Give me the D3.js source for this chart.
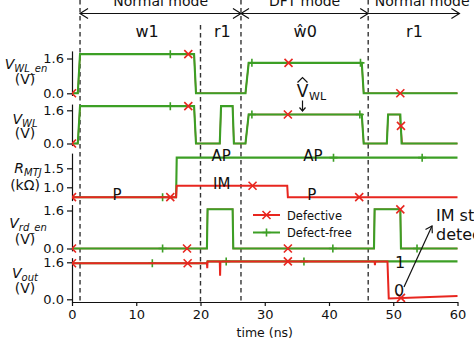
<!DOCTYPE html>
<html><head><meta charset="utf-8">
<script src="https://cdn.jsdelivr.net/npm/d3@7"></script>
<style>body{margin:0;background:#fff}svg{display:block}text{font-family:"DejaVu Sans",sans-serif;fill:#111}</style>
</head><body><svg id="c" width="474" height="346"></svg>
<script>
// ---------- data ----------
const timeTicks = [0,10,20,30,40,50,60];
const phaseLabels = ["Normal mode","DFT mode","Normal mode"];
const phaseLabelT = [13.8, 36.2, 54.5];
const phaseBounds = [1.25, 26.3, 46.1, 60.3];
const opLabels = ["w1","r1","\u0175" + "0","r1"];
const opLabelT = [11.7, 23.4, 36.3, 53.3];
const dashT = [1.25, 20, 26.3, 46.1];

// V_WL_en
const wlenGood = [[0,0],[0.9,0],[1.25,1.8],[19.0,1.8],[19.3,0],[27.0,0],[27.5,1.4],[45.1,1.4],[45.4,0],[60,0]];
const wlenBad  = wlenGood;
const wlenBadMk  = [[0,0],[18.1,1.8],[33.7,1.4],[51.1,0]];
const wlenGoodMk = [[15.3,1.8],[28.0,1.4],[44.9,1.4]];
// V_WL
const wlGood = [[0,0],[0.9,0],[1.25,1.8],[19.0,1.8],[19.3,0],[23.0,0],[23.2,1.8],[25.0,1.8],[25.2,0],[27.0,0],[27.5,1.4],[45.1,1.4],[45.4,0],[49.0,0],[49.2,1.4],[51.1,1.4],[51.3,0],[60,0]];
const wlBad  = [[0,0],[0.9,0],[1.25,1.8],[19.0,1.8],[19.3,0],[23.0,0],[23.2,1.8],[25.0,1.8],[25.2,0],[27.0,0],[27.5,1.4],[45.1,1.4],[45.4,0],[49.0,0],[49.2,1.4],[51.0,1.4],[51.4,0],[60,0]];
const wlBadMk  = [[0,0],[18.1,1.8],[33.6,1.4],[51.2,0.85]];
const wlGoodMk = [[15.3,1.8],[28.0,1.4],[44.8,1.4]];
// R_MTJ (kOhm)
const rGood = [[0,0.74],[16.2,0.74],[16.3,1.78],[60,1.78]];
const rBad  = [[0,0.74],[16.2,0.74],[16.3,1.04],[33.5,1.04],[33.6,0.74],[60,0.74]];
const rBadMk  = [[0,0.74],[15.3,0.74],[28.1,1.04],[44.7,0.74]];
const rGoodMk = [[14.1,0.74],[40.7,1.78],[54.5,1.78]];
// V_rd_en
const rdGood = [[0,0],[21.0,0],[21.1,1.65],[25.0,1.65],[25.1,0],[47.0,0],[47.1,1.65],[51.1,1.65],[51.2,0],[60,0]];
const rdBad  = rdGood;
const rdBadMk  = [[0,0],[17.9,0],[33.6,0],[51.1,1.65]];
const rdGoodMk = [[14.1,0],[40.6,0],[53.7,0]];
// V_out
const outGood = [[0,1.56],[21.0,1.56],[21.1,1.64],[60,1.64]];
const outBad  = [[0,1.56],[21.0,1.56],[21.05,1.35],[21.1,1.64],[23.0,1.64],[23.05,1.02],[23.1,1.64],[47.1,1.64],[47.15,1.48],[47.2,1.64],[49.1,1.64],[49.3,0.04],[60,0.14]];
const outBadMk  = [[0,1.56],[18.0,1.56],[33.6,1.64],[51.2,0.06]];
const outGoodMk = [[12.5,1.56],[24.0,1.64],[36.1,1.64]];

// ---------- drawing ----------
const RED = "#e8261f", GREEN = "#3c9f25";
const svg = d3.select("#c");
const x = d3.scaleLinear().domain([0,60]).range([72,457.5]);

function mkScale(v0,p0,v1,p1,ext){
  const s=(p1-p0)/(v1-v0);
  return d3.scaleLinear().domain(ext).range(ext.map(v=>p0+(v-v0)*s));
}
const panels = [
  {y: mkScale(0,93.3,1.6,58.5,[-0.1,1.95]), ticks:[0,1.6], good:wlenGood, bad:wlenBad, gm:wlenGoodMk, bm:wlenBadMk, redTop:false,
   title:["V","WL_en"], unit:"(V)", ty:[64,79], tx:26},
  {y: mkScale(0,143.5,1.6,110.3,[-0.1,1.9]), ticks:[0,1.6], good:wlGood, bad:wlBad, gm:wlGoodMk, bm:wlBadMk, redTop:false,
   title:["V","WL"], unit:"(V)", ty:[119,133], tx:25},
  {y: mkScale(1.0,187.3,1.5,168.3,[0.65,1.9]), ticks:[1.0,1.5], good:rGood, bad:rBad, gm:rGoodMk, bm:rBadMk, redTop:true,
   title:["R","MTJ"], unit:"(k\u03A9)", ty:[168,185], tx:28},
  {y: mkScale(0,248.5,1.6,210.5,[-0.1,1.85]), ticks:[0,1.6], good:rdGood, bad:rdBad, gm:rdGoodMk, bm:rdBadMk, redTop:false,
   title:["V","rd_en"], unit:"(V)", ty:[223,239], tx:28},
  {y: mkScale(0,299.3,1.6,262.3,[-0.12,1.8]), ticks:[0,1.6], good:outGood, bad:outBad, gm:outGoodMk, bm:outBadMk, redTop:true,
   title:["V","out"], unit:"(V)", ty:[273,288], tx:25}
];

svg.append("defs").append("clipPath").attr("id","clp").append("rect")
  .attr("x",72).attr("y",0).attr("width",390).attr("height",346);

// dashed phase boundaries
dashT.forEach((t,i)=>{
  svg.append("line").attr("x1",x(t)).attr("x2",x(t)).attr("y1", i===1?25:0).attr("y2",302)
    .attr("stroke","#333").attr("stroke-width",1.4).attr("stroke-dasharray","4.5,3.5");
});

// phase arrows
const ay = 13.5;
function chevron(px, dir){
  svg.append("path").attr("d",`M${px+dir*8},${ay-5}L${px},${ay}L${px+dir*8},${ay+5}`)
    .attr("fill","none").attr("stroke","#111").attr("stroke-width",1.2);
}
for(let i=0;i<3;i++){
  const a=x(phaseBounds[i]), b=x(phaseBounds[i+1]);
  svg.append("line").attr("x1",a).attr("x2",b).attr("y1",ay).attr("y2",ay).attr("stroke","#111").attr("stroke-width",1.2);
  if(i<2) chevron(a,1);
  chevron(b,-1);
}
phaseLabels.forEach((s,i)=>svg.append("text").attr("x",x(phaseLabelT[i])).attr("y",5.5)
  .attr("text-anchor","middle").attr("font-size",14).text(s));
opLabels.forEach((s,i)=>svg.append("text").attr("x",x(opLabelT[i])).attr("y",37)
  .attr("text-anchor","middle").attr("font-size",16).text(s));

// markers
function xMark(g,px,py,col){
  g.append("path").attr("d",`M${px-4},${py-4}L${px+4},${py+4}M${px-4},${py+4}L${px+4},${py-4}`)
    .attr("stroke",col).attr("stroke-width",1.6).attr("fill","none");
}
function pMark(g,px,py,col){
  g.append("path").attr("d",`M${px-4},${py}L${px+4},${py}M${px},${py-4}L${px},${py+4}`)
    .attr("stroke",col).attr("stroke-width",1.6).attr("fill","none");
}

panels.forEach(p=>{
  const y=p.y;
  const ax = d3.axisLeft(y).tickValues(p.ticks).tickFormat(d3.format(".1f")).tickSize(5).tickSizeOuter(0).tickPadding(3);
  const g = svg.append("g").attr("transform","translate(72,0)").call(ax);
  g.select(".domain").attr("stroke","#111").attr("stroke-width",1.2);
  g.selectAll(".tick line").attr("stroke","#111").attr("stroke-width",1.2);
  g.selectAll(".tick text").attr("font-size",13).attr("font-family","DejaVu Sans").attr("fill","#111");

  const line = d3.line().x(d=>x(d[0])).y(d=>y(d[1]));
  const gl = svg.append("g").attr("clip-path","url(#clp)");
  const redW = p.redTop ? 2 : 1.4;
  const drawRedLine = ()=>gl.append("path").datum(p.bad).attr("d",line).attr("fill","none").attr("stroke",RED).attr("stroke-width",redW);
  const drawGreen = ()=>{
    gl.append("path").datum(p.good).attr("d",line).attr("fill","none").attr("stroke",GREEN).attr("stroke-width",2.1);
    p.gm.forEach(d=>pMark(gl,x(d[0]),y(d[1]),GREEN));
  };
  if(p.redTop){ drawGreen(); drawRedLine(); } else { drawRedLine(); drawGreen(); }
  p.bm.forEach(d=>xMark(gl,x(d[0]),y(d[1]),RED));

  const t = svg.append("text").attr("x",p.tx).attr("y",p.ty[0]+5).attr("text-anchor","middle");
  t.append("tspan").attr("font-size",14).attr("font-style","italic").text(p.title[0]);
  t.append("tspan").attr("font-size",10).attr("font-style","italic").attr("dy",3).text(p.title[1]);
  svg.append("text").attr("x",25).attr("y",p.ty[1]+5).attr("text-anchor","middle").attr("font-size",14).text(p.unit);
});

// x axis
const xa = d3.axisBottom(x).tickValues(timeTicks).tickSize(4).tickSizeOuter(0).tickPadding(4);
const gx = svg.append("g").attr("transform","translate(0,302)").call(xa);
gx.select(".domain").attr("stroke","#111").attr("stroke-width",1.2);
gx.selectAll(".tick line").attr("stroke","#111").attr("stroke-width",1.2);
gx.selectAll(".tick text").attr("font-size",13).attr("font-family","DejaVu Sans").attr("fill","#111");
svg.append("text").attr("x",x(30)).attr("y",337).attr("text-anchor","middle").attr("font-size",12.5).text("time (ns)");

// state annotations in R_MTJ panel
const yr = panels[2].y;
[["P",7.0,0.74],["IM",23.3,1.04],["AP",23.2,1.78],["AP",37.5,1.78],["P",37.3,0.74]].forEach(d=>{
  svg.append("text").attr("x",x(d[1])).attr("y",yr(d[2])+3).attr("text-anchor","middle").attr("font-size",15).text(d[0]);
});

// V-hat WL annotation
svg.append("text").attr("x",302.5).attr("y",97).attr("text-anchor","middle").attr("font-size",17).text("V");
svg.append("path").attr("d","M297.5,82.5L302.5,77.5L307.5,82.5").attr("fill","none").attr("stroke","#111").attr("stroke-width",1.2);
svg.append("text").attr("x",309).attr("y",99.5).attr("font-size",11).text("WL");
svg.append("line").attr("x1",302.5).attr("x2",302.5).attr("y1",100.5).attr("y2",111).attr("stroke","#111").attr("stroke-width",1.2);
svg.append("path").attr("d","M299.5,107.5L302.5,111L305.5,107.5").attr("fill","none").attr("stroke","#111").attr("stroke-width",1.2);

// legend
const lg = svg.append("g");
[[RED,"Defective",215,xMark],[GREEN,"Defect-free",232.5,pMark]].forEach(d=>{
  lg.append("line").attr("x1",253).attr("x2",280).attr("y1",d[2]).attr("y2",d[2]).attr("stroke",d[0]).attr("stroke-width",2);
  d[3](lg,266.5,d[2],d[0]);
  lg.append("text").attr("x",287).attr("y",d[2]+4.5).attr("font-size",11.5).text(d[1]);
});

// output annotations
svg.append("text").attr("x",400).attr("y",268).attr("text-anchor","middle").attr("font-size",16).text("1");
svg.append("text").attr("x",399).attr("y",296).attr("text-anchor","middle").attr("font-size",16).text("0");
svg.append("line").attr("x1",404).attr("y1",287).attr("x2",432).attr("y2",226).attr("stroke","#111").attr("stroke-width",1.2);
svg.append("path").attr("d","M425.5,229.5L432,226L432.3,233.3").attr("fill","none").attr("stroke","#111").attr("stroke-width",1.2);
svg.append("text").attr("x",436).attr("y",221).attr("font-size",16).text("IM state");
svg.append("text").attr("x",436).attr("y",240).attr("font-size",16).text("detected");
</script></body></html>
